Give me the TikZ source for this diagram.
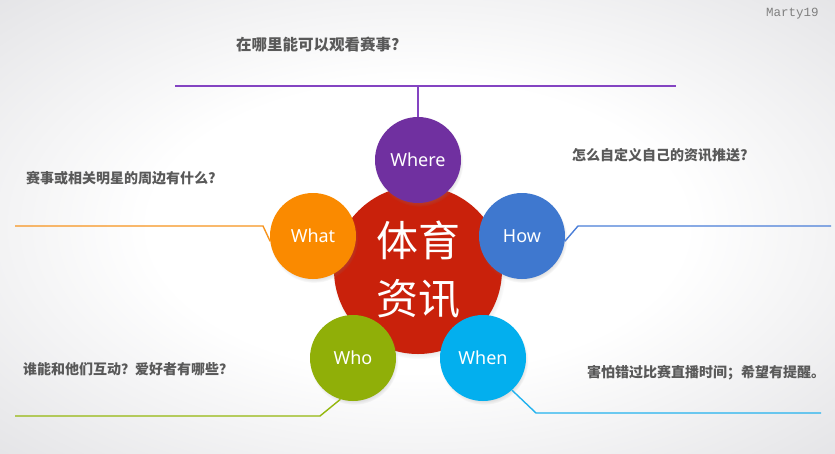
\documentclass[tikz,border=0pt]{standalone}
\usepackage{fontspec}
\setmainfont{Noto Sans}
\setmonofont{Liberation Mono}
\newfontfamily\cjk{Noto Sans CJK SC}
\usetikzlibrary{shadows,fadings}

\definecolor{bggray}{HTML}{D4D4D8}
\definecolor{qgray}{HTML}{595959}
\definecolor{corered}{HTML}{C9210B}
\definecolor{wherec}{HTML}{7030A0}
\definecolor{whatc}{HTML}{FA8A00}
\definecolor{howc}{HTML}{3F78CF}
\definecolor{whoc}{HTML}{90AF08}
\definecolor{whenc}{HTML}{03AFEE}
\definecolor{wherel}{HTML}{8444C2}
\definecolor{whatl}{HTML}{F7941E}
\definecolor{howl}{HTML}{4A7ED8}
\definecolor{whol}{HTML}{94B70C}
\definecolor{whenl}{HTML}{22B2EE}

\pgfdeclareradialshading{bgshade}{\pgfpoint{0bp}{0bp}}{color(0bp)=(white);color(16bp)=(white);color(48bp)=(bggray);color(60bp)=(bggray)}

\tikzset{
	ball/.style={circle, minimum size=86pt, inner sep=0pt, text=white, font=\fontsize{18}{20}\selectfont,
		circular drop shadow={shadow scale=1.03, shadow xshift=1pt, shadow yshift=-2.5pt, opacity=.35}},
	quest/.style={anchor=west, inner sep=0pt, text=qgray, font=\cjk\bfseries\fontsize{14}{16}\selectfont},
	link/.style={line width=1.4pt}
}

\begin{document}
\begin{tikzpicture}[x=1pt,y=-1pt]
\useasboundingbox (0,0) rectangle (835,453);
\shade[shading=bgshade] (0,0) rectangle (835,453);

	\node[anchor=west, inner sep=0pt, text=gray, font=\ttfamily\fontsize{12.5}{14}\selectfont] (Tag) at (766,14) {Marty19};

	\node[ball, fill=corered, minimum size=168pt, font=\cjk\fontsize{42}{58}\selectfont, align=center] (Core) at (418,270) {体育\\资讯};
	\node[ball, fill=wherec] (Where) at (418,160) {Where};
	\node[ball, fill=whatc] (What) at (313,236) {What};
	\node[ball, fill=howc] (How) at (522,236) {How};
	\node[ball, fill=whoc] (Who) at (353,358) {Who};
	\node[ball, fill=whenc] (When) at (483,358) {When};

	\node[quest, font=\cjk\bfseries\fontsize{15.5}{17}\selectfont] (Q1) at (236,44) {在哪里能可以观看赛事?};
	\node[quest] (Q2) at (26,178) {赛事或相关明星的周边有什么?};
	\node[quest] (Q3) at (572,155) {怎么自定义自己的资讯推送?};
	\node[quest] (Q4) at (23,369) {谁能和他们互动？爱好者有哪些？};
	\node[quest] (Q5) at (587,373) {害怕错过比赛直播时间；希望有提醒。};

	\coordinate (E1) at (175,86);
	\coordinate (E2) at (676,86);
	\coordinate (E3) at (418,86);
	\coordinate (A1) at (15,226);
	\coordinate (A2) at (263,226);
	\coordinate (H1) at (831,226);
	\coordinate (H2) at (578,226);
	\coordinate (O1) at (15,416);
	\coordinate (O2) at (320,416);
	\coordinate (N1) at (821,413);
	\coordinate (N2) at (536,413);

	\draw[link, wherel] (E1) -- (E2);
	\draw[link, wherel] (Where.north) -- (E3);
	\draw[link, whatl] (A1) -- (A2) -- (What.187);
	\draw[link, howl] (H1) -- (H2) -- (How.353);
	\draw[link, whol] (O1) -- (O2) -- (Who.253);
	\draw[link, whenl] (N1) -- (N2) -- (When.312);
\end{tikzpicture}
\end{document}
